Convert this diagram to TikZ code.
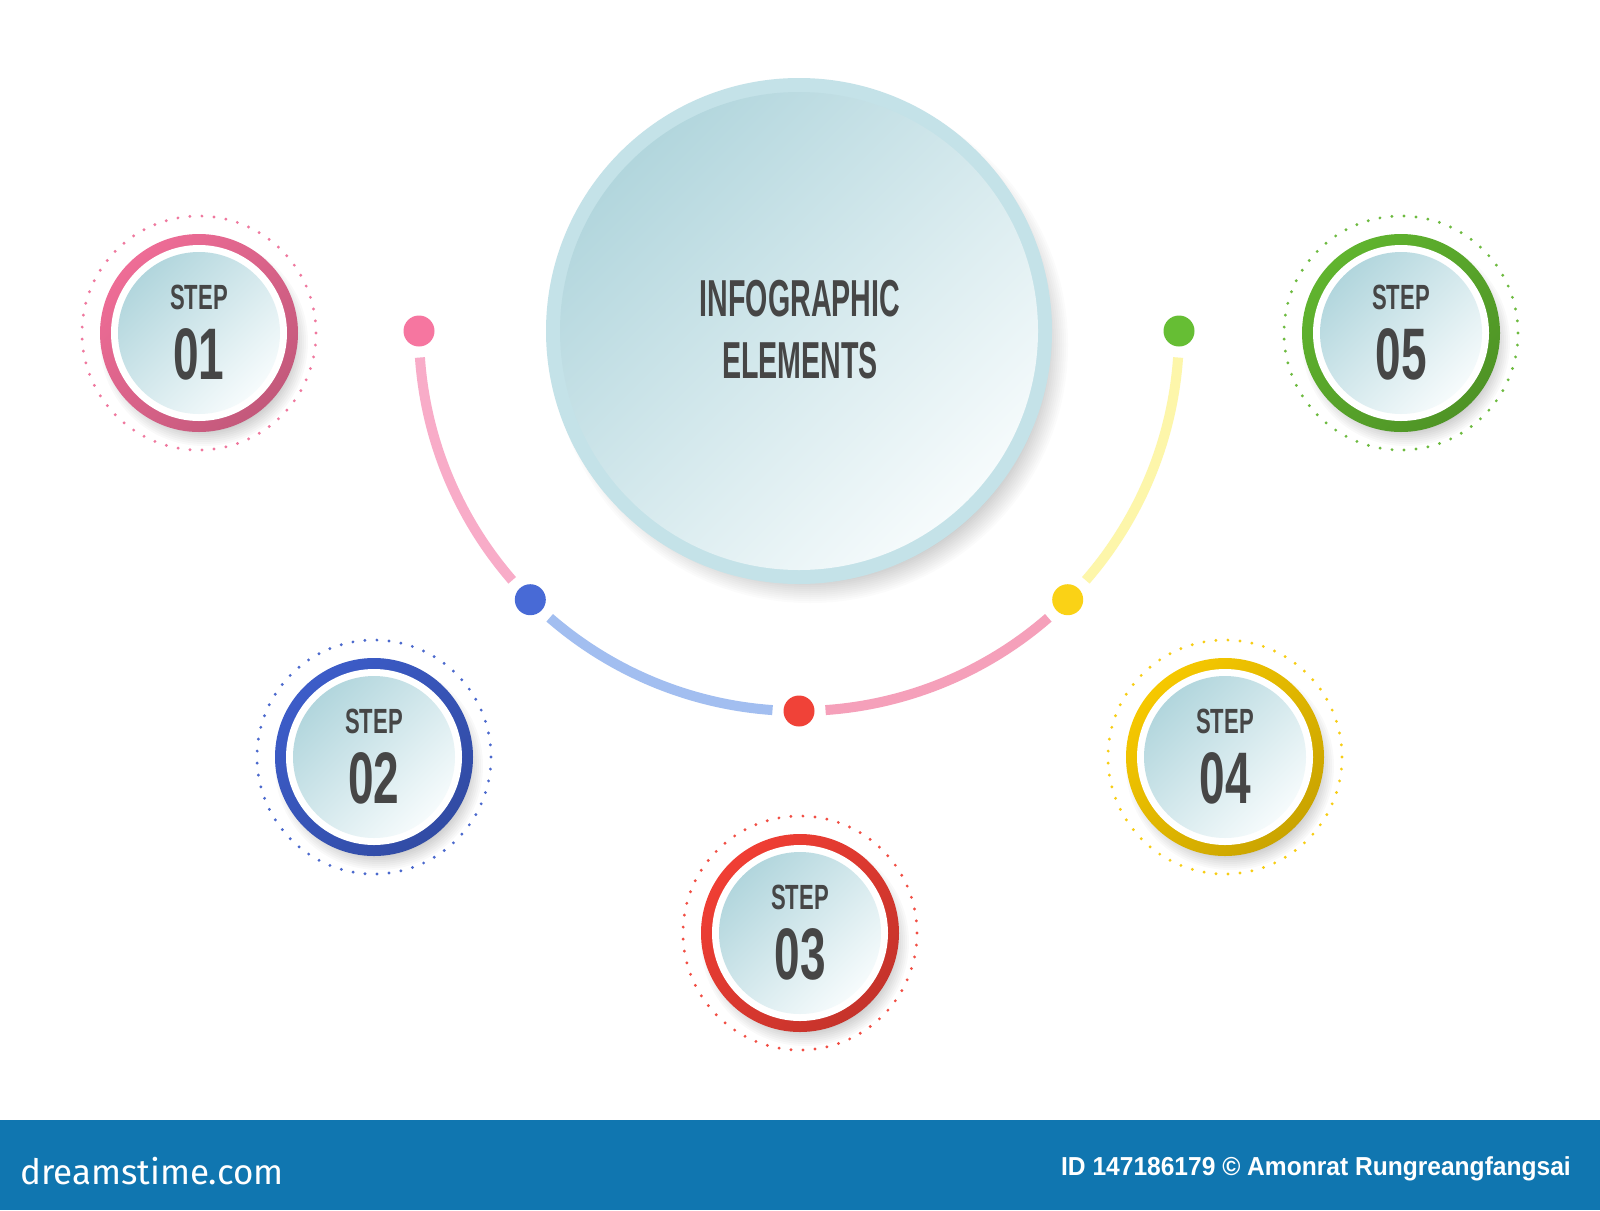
\documentclass[tikz,border=0pt]{standalone}
\usepackage{fontspec}
\setmainfont{Liberation Sans}
\newfontfamily\headfont[FakeStretch=0.55]{Liberation Sans}
\newfontfamily\stepfont[FakeStretch=0.63]{Liberation Sans}
\newfontfamily\idfont[FakeStretch=0.945]{Liberation Sans}
\newfontfamily\logofont{Fira Sans}
\definecolor{barblue}{RGB}{16,118,176}
\definecolor{txtgray}{RGB}{70,70,70}
\definecolor{bigring}{RGB}{196,226,232}
\definecolor{discA}{RGB}{178,214,221}
\definecolor{discB}{RGB}{246,251,252}
\definecolor{ringpink}{RGB}{238,108,150}
\definecolor{ringblue}{RGB}{60,92,200}
\definecolor{ringred}{RGB}{240,62,52}
\definecolor{ringyellow}{RGB}{246,200,0}
\definecolor{ringgreen}{RGB}{96,180,46}
\definecolor{dotpink}{RGB}{246,118,160}
\definecolor{dotblue}{RGB}{72,106,214}
\definecolor{dotred}{RGB}{240,66,56}
\definecolor{dotyellow}{RGB}{250,210,22}
\definecolor{dotgreen}{RGB}{102,190,52}
\definecolor{segpink}{RGB}{248,172,200}
\definecolor{segblue}{RGB}{162,190,240}
\definecolor{segrose}{RGB}{245,160,186}
\definecolor{segyellow}{RGB}{253,246,170}
\tikzset{
  headtxt/.style={inner sep=0, text=txtgray, font=\headfont\bfseries\fontsize{52}{52}\selectfont},
  stepword/.style={inner sep=0, text=txtgray, font=\stepfont\bfseries\fontsize{35}{35}\selectfont},
  stepnum/.style={inner sep=0, text=txtgray, font=\stepfont\bfseries\fontsize{73}{73}\selectfont},
  arcdot/.style={circle, inner sep=0, minimum size=31},
  seg/.style={line width=10},
  dotring/.style={line width=3.2, dash pattern=on 0pt off 12.05pt, line cap=round},
  holder/.style={circle, inner sep=0, minimum size=198}
}
\newcommand\mystep[5]{%
  \foreach \k in {0,...,9}{\fill[black,opacity=0.022] ({#2+5},{#3+9}) circle[radius={104-2*\k}];}
  \draw[dotring, #4!92!white] (#2,#3) circle[radius=117];
  \shade[top color=#4, bottom color=#4!82!black, shading angle=45] (#2,#3) circle[radius=99];
  \fill[white] (#2,#3) circle[radius=88];
  \shade[top color=discA, bottom color=discB, shading angle=45] (#2,#3) circle[radius=81];
  \node[holder] (#1) at (#2,#3) {};
  \node[stepword] (#1w) at (#2,{#3-36}) {STEP};
  \node[stepnum] (#1n) at (#2,{#3+21}) {#5};
}
\begin{document}
\begin{tikzpicture}[x=1pt,y=-1pt]
\useasboundingbox (0,0) rectangle (1600,1210);
\fill[white] (0,0) rectangle (1600,1210);
% big circle
\coordinate (C) at (799,331);
\foreach \k in {0,...,11}{\fill[black,opacity=0.016] (810,345) circle[radius={258-2*\k}];}
\fill[bigring] (C) circle[radius=253];
\shade[top color=discA, bottom color=discB, shading angle=45] (C) circle[radius=239];
\node[headtxt] (t1) at (800,299) {INFOGRAPHIC};
\node[headtxt] (t2) at (800,361) {ELEMENTS};
% arc segments
\draw[seg, segpink] (C) ++(176:380) arc[start angle=176, end angle=139, radius=380];
\draw[seg, segblue] (C) ++(131:380) arc[start angle=131, end angle=94, radius=380];
\draw[seg, segrose] (C) ++(86:380) arc[start angle=86, end angle=49, radius=380];
\draw[seg, segyellow] (C) ++(41:380) arc[start angle=41, end angle=4, radius=380];
% dots
\path (C) ++(180:380) node[arcdot, fill=dotpink] (d1) {};
\path (C) ++(135:380) node[arcdot, fill=dotblue] (d2) {};
\path (C) ++(90:380) node[arcdot, fill=dotred] (d3) {};
\path (C) ++(45:380) node[arcdot, fill=dotyellow] (d4) {};
\path (C) ++(0:380) node[arcdot, fill=dotgreen] (d5) {};
% steps
\mystep{s1}{199}{333}{ringpink}{01}
\mystep{s2}{374}{757}{ringblue}{02}
\mystep{s3}{800}{933}{ringred}{03}
\mystep{s4}{1225}{757}{ringyellow}{04}
\mystep{s5}{1401}{333}{ringgreen}{05}
% bottom bar
\fill[barblue] (0,1120) rectangle (1600,1210);
\node[anchor=base west, inner sep=0, text=white, font=\logofont\fontsize{35}{35}\selectfont] (logo) at (20,1184) {dreamstime.com};
\node[anchor=base east, inner sep=0, text=white, font=\idfont\bfseries\fontsize{26}{26}\selectfont] (idtxt) at (1571,1175) {ID 147186179 © Amonrat Rungreangfangsai};
\end{tikzpicture}
\end{document}
